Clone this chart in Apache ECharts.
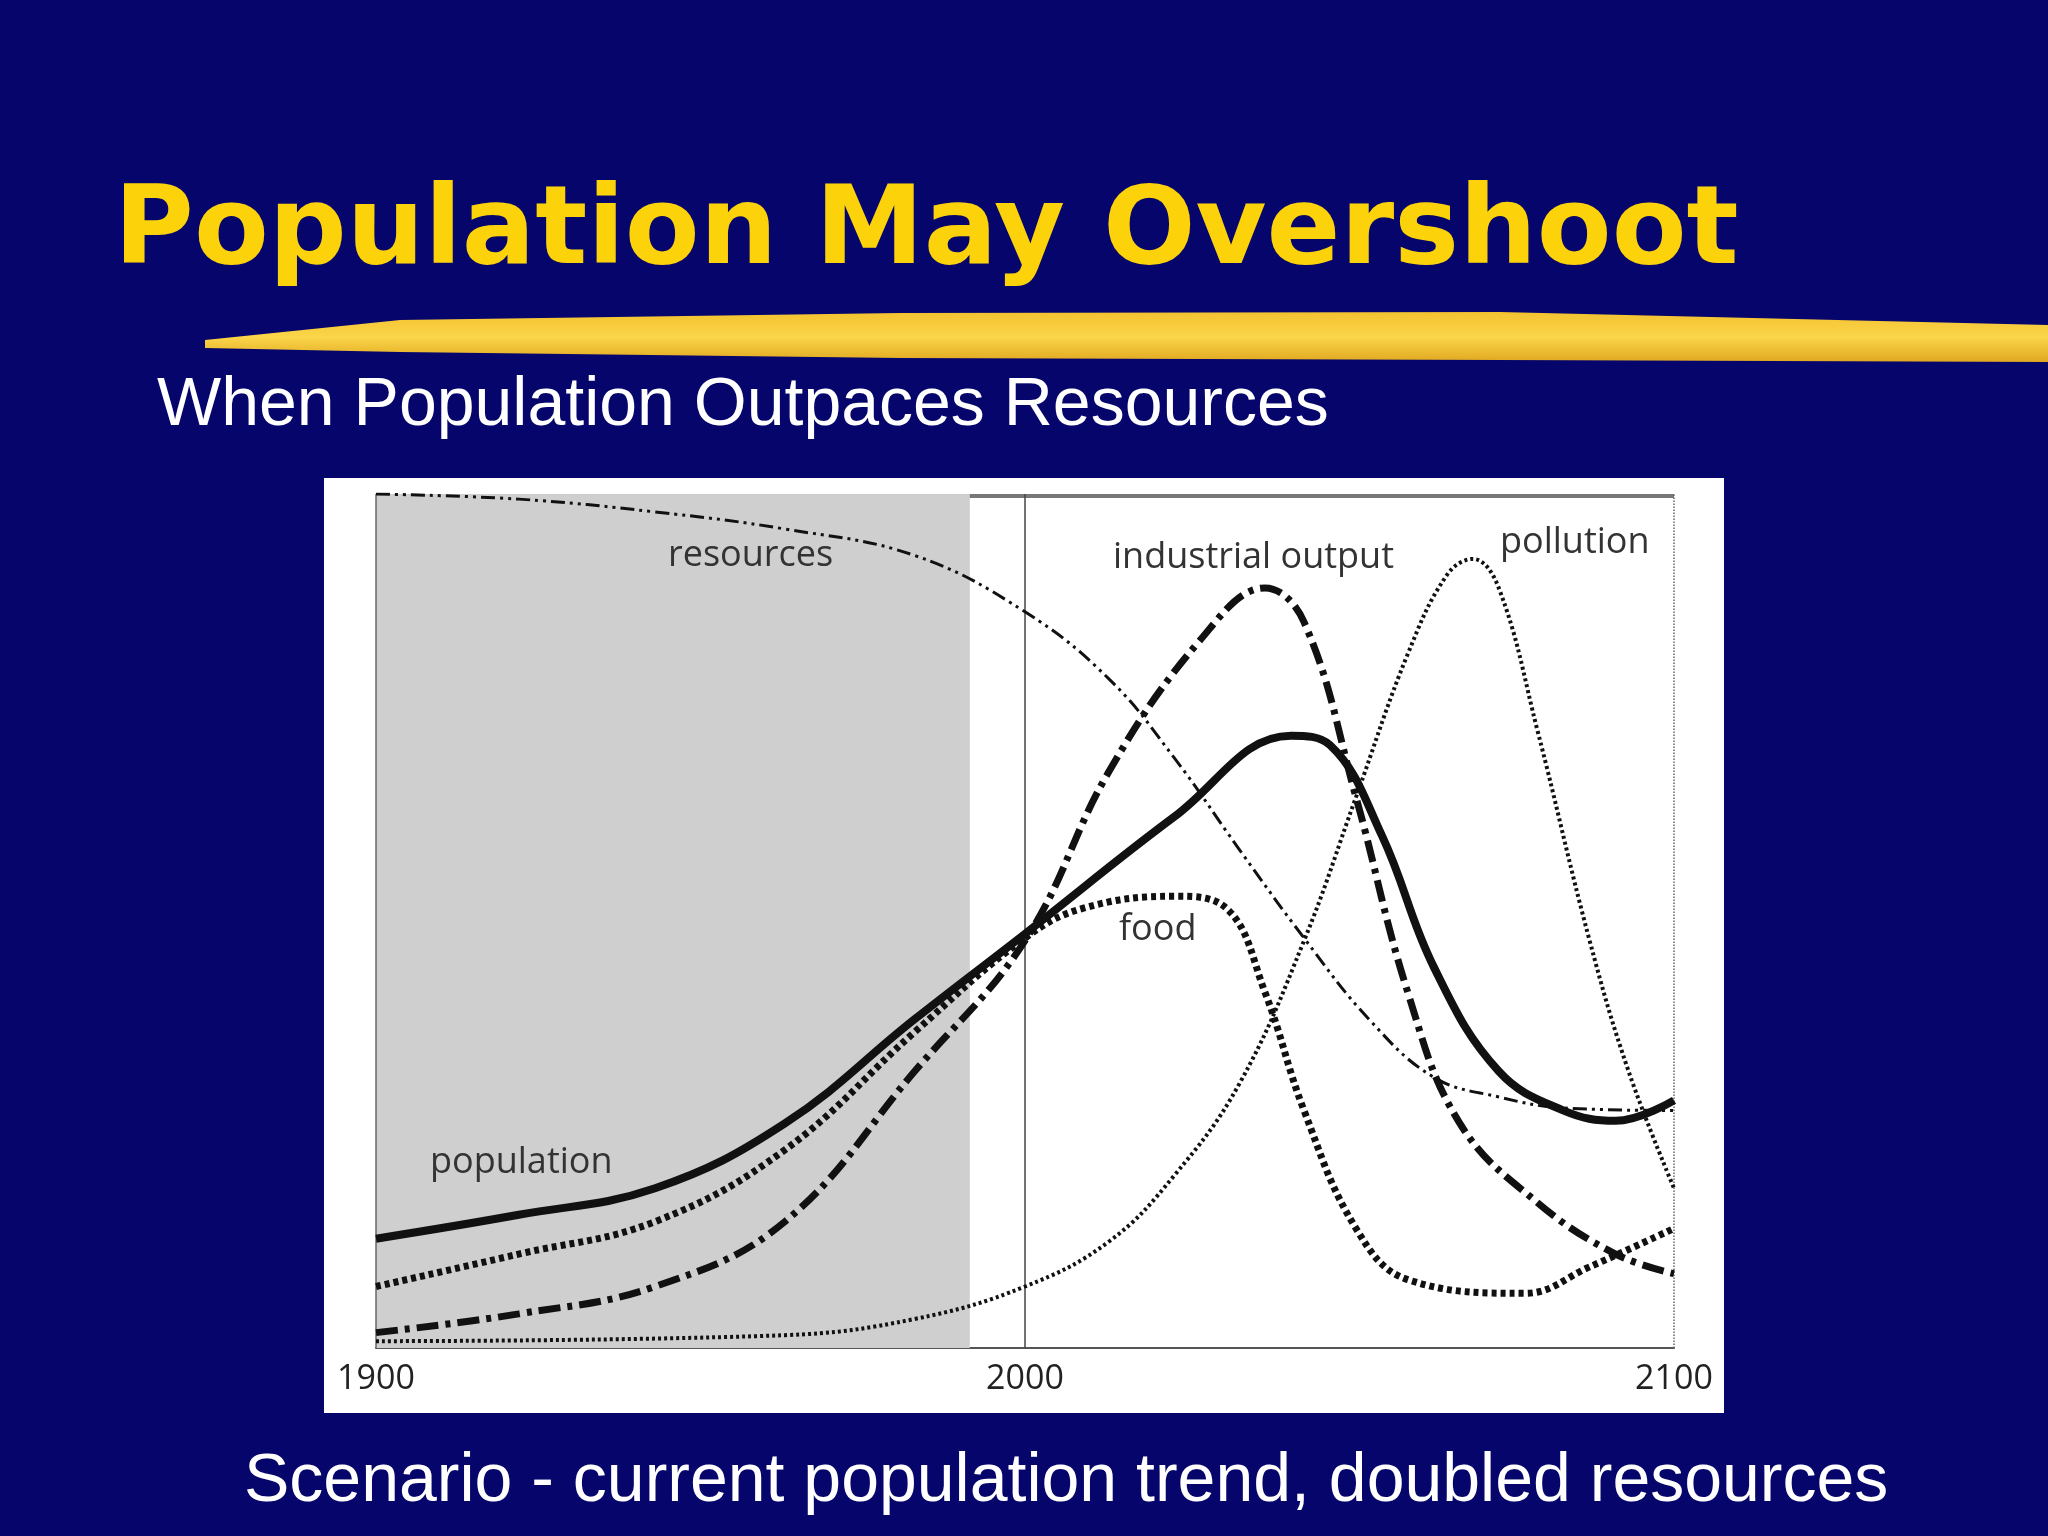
<!DOCTYPE html>
<html><head><meta charset="utf-8">
<script src="https://cdn.jsdelivr.net/npm/echarts@6/dist/echarts.min.js"></script>
<style>html,body{margin:0;padding:0;background:#05056b}#c{width:2048px;height:1536px}</style>
</head><body><div id="c"></div>
<script>
const population=[[1900,12.8],[1922,15.6],[1943,18.7],[1963,26.3],[1983,38.5],[2000,48.5],[2023,62.2],[2041,71.7],[2047,70.6],[2055,60],[2063,44.6],[2073,32.4],[2083,27.8],[2091,26.6],[2100,29]];
const food=[[1900,7.2],[1922,11],[1943,14.8],[1963,23.2],[1983,37],[2000,48],[2009,51.5],[2023,52.9],[2031,51.5],[2037,41.6],[2043,27.8],[2051,14],[2059,8],[2077,6.4],[2087,9.5],[2100,14]];
const industrial=[[1900,1.8],[1922,4],[1943,7.2],[1963,14.8],[1983,32.4],[2000,47.7],[2013,67.6],[2027,82.9],[2037,89],[2043,85],[2051,64.5],[2059,41.6],[2067,26.3],[2079,17],[2091,11],[2100,8.7]];
const resources=[[1900,100],[1922,99.4],[1943,97.9],[1963,95.9],[1983,92.8],[2000,86.2],[2013,78.3],[2023,69.1],[2033,58.4],[2043,48],[2053,38.5],[2063,31.7],[2073,29.4],[2083,28.1],[2100,27.8]];
const pollution=[[1900,0.8],[1963,1.5],[1983,3.4],[2000,7.2],[2013,12.5],[2023,20.2],[2033,30.9],[2043,47.7],[2051,64.5],[2059,81.3],[2065,90.5],[2069,92.4],[2073,89],[2079,72.2],[2087,47.7],[2093,32.4],[2100,18.7]];
const xTicks=[1900,2000,2100];
const ch=echarts.init(document.getElementById('c'));
const lbl=(t,x,y)=>({type:'text',left:x,top:y,style:{text:t,fill:'#333',font:'36px "Open Sans", sans-serif'},z:50});
function line(name,data,w,type){return {name,type:'line',data,smooth:0.4,showSymbol:false,lineStyle:{color:'#111',width:w,type:type},z:5};}
ch.setOption({
backgroundColor:'#05056b',
grid:{left:376,top:494,width:1298,height:854,show:false},
xAxis:{type:'value',min:1900,max:2100,interval:100,axisLine:{show:true,lineStyle:{color:'#555',width:2}},axisTick:{show:false},splitLine:{show:false},
 axisLabel:{color:'#222',fontSize:34,fontFamily:'"Open Sans", sans-serif',margin:14,formatter:v=>xTicks.includes(v)?String(v):''}},
yAxis:{type:'value',min:0,max:100,show:false},
graphic:[
 {type:'rect',shape:{x:324,y:478,width:1400,height:935},style:{fill:'#fff'},z:-10},
 {type:'rect',shape:{x:376,y:494,width:1298,height:4},style:{fill:'#777'},z:1},
 {type:'polygon',shape:{points:[[205,340],[400,320],[900,313],[1500,312],[2048,325],[2048,362],[1500,360],[900,358],[400,352],[205,348]]},style:{fill:new echarts.graphic.LinearGradient(0,0,0,1,[{offset:0,color:'#f3c230'},{offset:0.5,color:'#fbd54a'},{offset:1,color:'#e0a820'}])},z:1},
 {type:'text',left:114,top:180,style:{text:'Population May Overshoot',fill:'#fcd20a',font:'bold 109px "DejaVu Sans", sans-serif'}},
 {type:'text',left:157,top:372,style:{text:'When Population Outpaces Resources',fill:'#fff',font:'68px "Liberation Sans", Arial, sans-serif'}},
 {type:'text',left:244,top:1448,style:{text:'Scenario - current population trend, doubled resources',fill:'#fff',font:'68px "Liberation Sans", Arial, sans-serif'}},
 lbl('resources',668,538),lbl('industrial output',1113,540),lbl('pollution',1500,525),lbl('food',1119,912),lbl('population',430,1145)
],
series:[
 {type:'line',data:[],markArea:{silent:true,itemStyle:{color:'#cfcfcf'},data:[[{xAxis:1900},{xAxis:1991.5}]]},markLine:{silent:true,symbol:'none',label:{show:false},lineStyle:{color:'#444',width:1.5,type:'solid'},data:[{xAxis:2000},{xAxis:2100,lineStyle:{type:'dotted',color:'#666'}},{xAxis:1900,lineStyle:{color:'#666'}}]}},
 line('resources',resources,3,[14,5,3,5,3,5]),
 line('pollution',pollution,4,[3,3]),
 line('industrial',industrial,7,[22,7,5,7]),
 line('food',food,7,[5,4]),
 line('population',population,8,'solid')
]});
</script></body></html>
